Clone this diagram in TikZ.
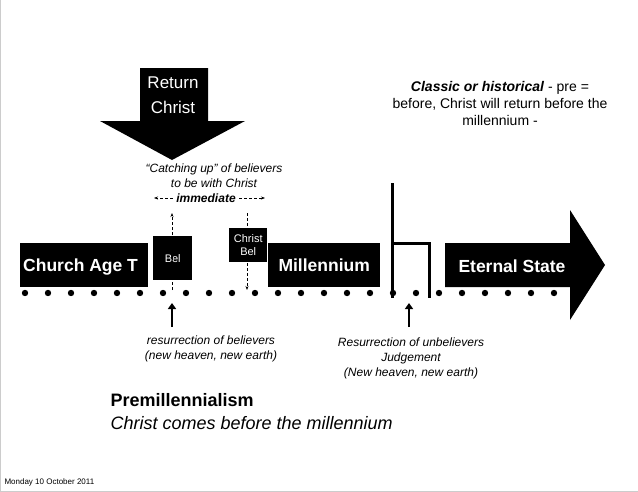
\documentclass[tikz,border=0pt]{standalone}
\usepackage{fontspec}
\setmainfont{Liberation Sans}
\usetikzlibrary{arrows.meta,positioning}
\tikzset{
  era/.style={fill=black, text=white, font=\fontsize{17.5}{19}\selectfont\bfseries, inner sep=0pt, anchor=north west},
  smallbox/.style={fill=black, text=white, font=\fontsize{11}{13}\selectfont, align=center, inner sep=0pt, anchor=north west},
  note/.style={font=\fontsize{12}{15}\selectfont\itshape, align=center},
  dashedarrow/.style={densely dashed, thick, -{Stealth[length=4pt]}},
  uparrow/.style={line width=2.2pt, -{Triangle[length=6pt,width=8pt]}}
}
\begin{document}
\begin{tikzpicture}[x=1pt, y=-1pt]
    \useasboundingbox (0,0) rectangle (638,491);
    \fill[white] (0,0) rectangle (638,491);

    % Return arrow
    \fill (140,68) -- (208,68) -- (208,121) -- (245,121) -- (172,160) -- (100,121) -- (140,121) -- cycle;
    \node (ret) [text=white, font=\fontsize{17}{25}\selectfont, align=center] at (173,95) {Return\\Christ};

    % Eras
    \node (age) [era, minimum width=128pt, minimum height=44pt] at (20,243) {};
    \node [text=white, font=\fontsize{17.5}{19}\selectfont\bfseries, anchor=west, inner sep=0pt] at (23,267) {Church Age T};
    \node (bel) [smallbox, minimum width=39pt, minimum height=44pt] at (153,236) {Bel};
    \node (cbel) [smallbox, minimum width=38pt, minimum height=34pt] at (229,228) {Christ\\Bel};
    \node (mil) [era, minimum width=112pt, minimum height=44pt] at (268,243) {\raisebox{-4pt}{Millennium}};
    \fill (445,243) -- (570,243) -- (570,210) -- (605,265) -- (570,320) -- (570,287) -- (445,287) -- cycle;
    \node (eter) [text=white, font=\fontsize{17.5}{19}\selectfont\bfseries] at (512,266) {Eternal State};

    % Throne
    \draw[line width=3pt] (392,183) -- (392,298);
    \draw[line width=3pt] (392,243) -- (429,243) -- (429,298);

    % Dots
    \foreach \i in {0,...,23}
        \fill (25+23*\i,293) circle (3.2pt);

    % Rapture
    \node (catch) [note] at (214,176) {``Catching up'' of believers\\to be with Christ};
    \node (imm) [font=\fontsize{12}{14}\selectfont\bfseries\itshape] at (206,198) {immediate};
    \draw[dashedarrow] (imm.west) -- (154,198);
    \draw[dashedarrow] (imm.east) -- (265,198);
    \coordinate (belbot) at (172,290);
    \coordinate (beltop) at (172,213);
    \draw[dashedarrow] (belbot) -- (beltop);
    \coordinate (cbtop) at (247,213);
    \coordinate (cbbot) at (247,290);
    \draw[dashedarrow] (cbtop) -- (cbbot);

    % Resurrections
    \coordinate (r1) at (172,327);
    \draw[uparrow] (r1) -- (172,303);
    \coordinate (r2) at (409,327);
    \draw[uparrow] (r2) -- (409,303);
    \node (res1) [note] at (211,349) {resurrection of believers\\(new heaven, new earth)};
    \node (res2) [note] at (411,358) {Resurrection of unbelievers\\Judgement\\(New heaven, new earth)};

    % Headings
    \node (cls) [font=\fontsize{14}{17}\selectfont, align=center] at (500,103) {\textbf{\textit{Classic or historical}} - pre =\\before, Christ will return before the\\millennium -};
    \node (pre) [font=\fontsize{18}{23}\selectfont, anchor=west, align=left] at (107,412) {\textbf{Premillennialism}\\\textit{Christ comes before the millennium}};
    \node (date) [font=\fontsize{8}{9}\selectfont, anchor=south west] at (1,490) {Monday 10 October 2011};
    \draw[gray!40] (0,0) -- (0,491) -- (638,491);
\end{tikzpicture}
\end{document}
